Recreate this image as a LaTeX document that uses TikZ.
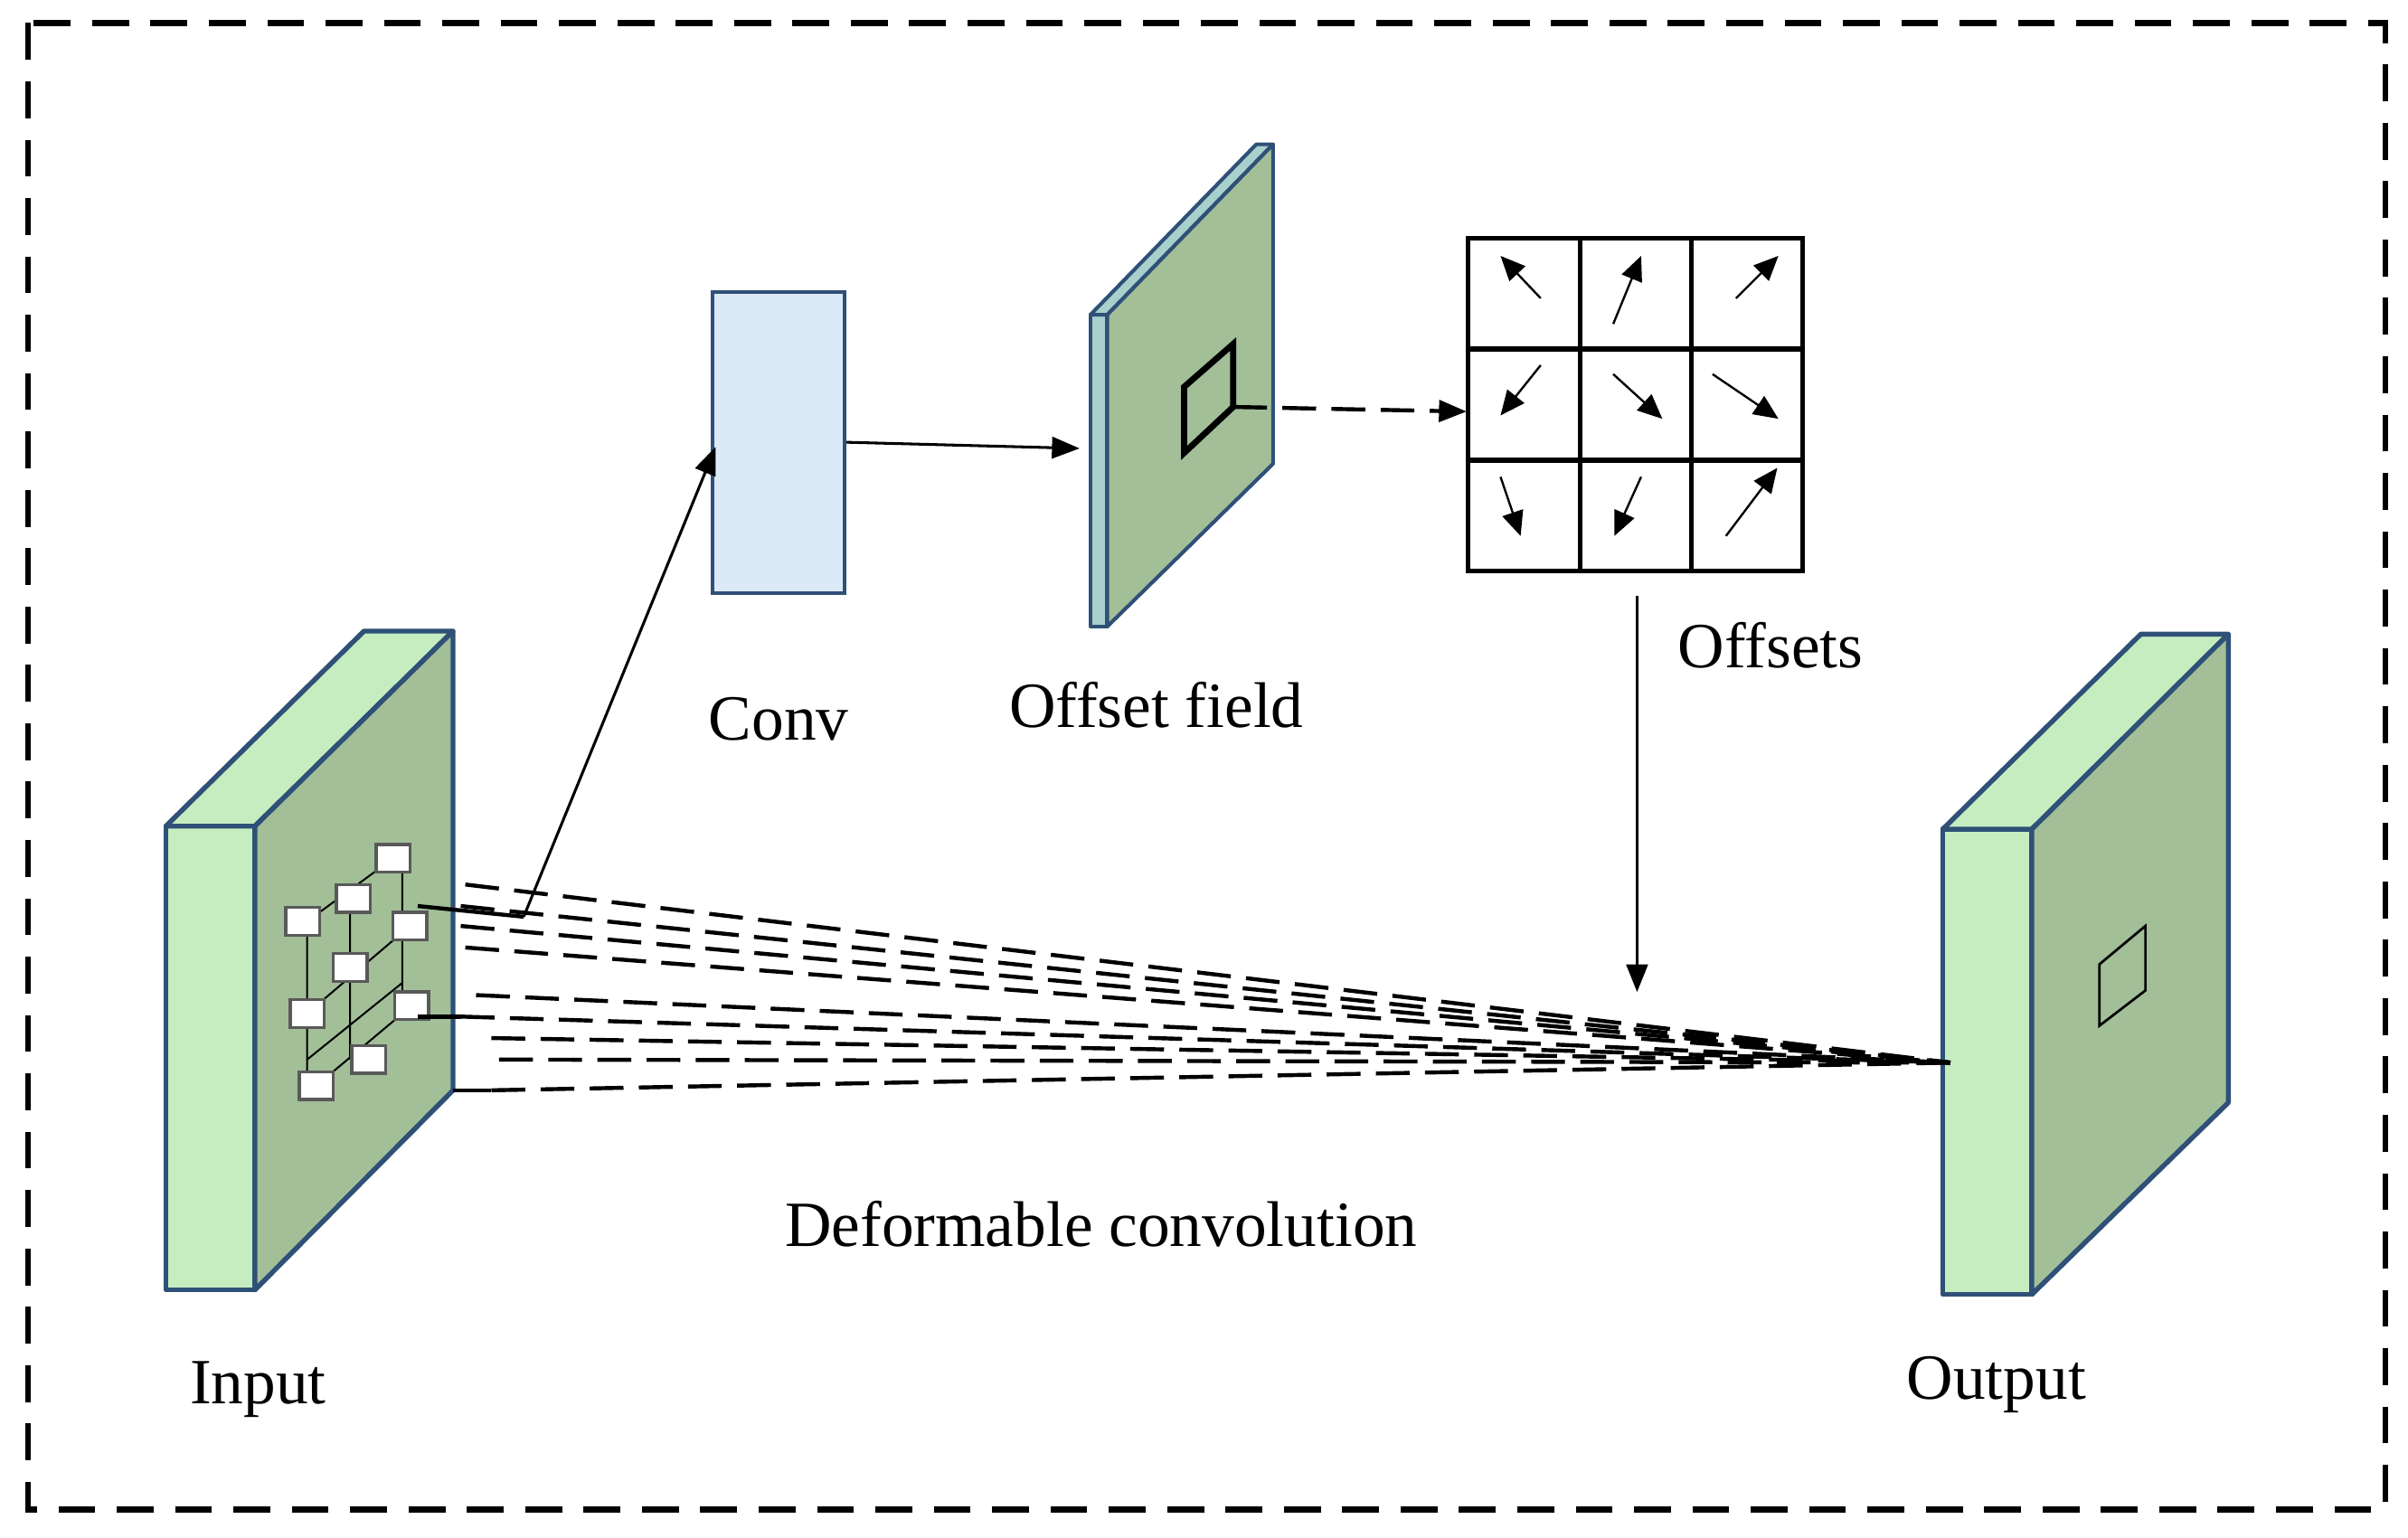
\documentclass[tikz,border=0pt]{standalone}
\usepackage{fontspec}
\setmainfont{Liberation Serif}
\usetikzlibrary{arrows.meta}
\definecolor{lg}{HTML}{C6EDC0}
\definecolor{dg}{HTML}{A2BF98}
\definecolor{ed}{HTML}{2F5077}
\definecolor{cv}{HTML}{DCEAF7}
\definecolor{sl}{HTML}{A8D0CC}
\begin{document}
\begin{tikzpicture}[x=0.5pt,y=-0.5pt,
  face/.style={draw=ed,line width=1.6pt,line join=round},
  lbl/.style={font=\fontsize{21}{24}\selectfont},
  arr/.style={-{Triangle[length=9pt,width=7pt]},line width=0.9pt},
  sarr/.style={-{Triangle[length=8pt,width=7pt]},line width=0.7pt},
  dl/.style={dash pattern=on 11pt off 5pt,line width=1.3pt},
  ks/.style={draw=gray!70!black,fill=white,line width=1pt,minimum width=11pt,minimum height=9pt,inner sep=0pt}]
\useasboundingbox (0,0) rectangle (1568,1001);
\draw[dash pattern=on 12pt off 7pt,line width=1.8pt] (18,15) rectangle (1553,983);
% input block
\filldraw[face,fill=lg] (108,538) rectangle (166,840);
\filldraw[face,fill=lg] (108,538) -- (237,411) -- (295,411) -- (166,538) -- cycle;
\filldraw[face,fill=dg] (166,538) -- (295,411) -- (295,710) -- (166,840) -- cycle;
% kernel lattice
\draw[line width=0.6pt] (200,600)--(200,707) (228,585)--(228,690) (262,559)--(262,655)
 (200,600)--(256,559) (200,660)--(267,603) (206,707)--(268,655) (200,690)--(262,640);
\foreach \p/\q [count=\i] in {197/600,230/585,256/559,267/603,228/630,200/660,268/655,240/690,206/707}
  \node[ks] (k\i) at (\p,\q) {};
% output block
\filldraw[face,fill=lg] (1265,540) rectangle (1323,843);
\filldraw[face,fill=lg] (1265,540) -- (1394,413) -- (1451,413) -- (1323,540) -- cycle;
\filldraw[face,fill=dg] (1323,540) -- (1451,413) -- (1451,718) -- (1323,843) -- cycle;
\draw[line width=0.8pt] (1367,628) -- (1397,603) -- (1397,645) -- (1367,668) -- cycle;
% offset field slab
\filldraw[face,line width=1.2pt,fill=sl] (710,205) rectangle (721,408);
\filldraw[face,line width=1.2pt,fill=sl] (710,205) -- (818,94) -- (829,94) -- (721,205) -- cycle;
\filldraw[face,line width=1.2pt,fill=dg] (721,205) -- (829,94) -- (829,302) -- (721,408) -- cycle;
\draw[line width=2pt,line join=miter] (771,252) -- (803,224) -- (803,265) -- (771,295) -- cycle;
% conv
\node[draw=ed,fill=cv,line width=1.2pt,minimum width=43pt,minimum height=98pt,inner sep=0pt] (conv) at (507,288) {};
% grid
\draw[line width=1.5pt] (956,155) rectangle (1174,372);
\draw[line width=1.5pt] (1028.7,155)--(1028.7,372) (1101.3,155)--(1101.3,372) (956,227.3)--(1174,227.3) (956,299.7)--(1174,299.7);
\def\cs{72.67}
\foreach \c/\r/\a/\b/\cc/\d in {0/0/.65/.54/.29/.16, 1/0/.30/.77/.55/.16, 2/0/.40/.54/.78/.16,
 0/1/.65/.14/.29/.59, 1/1/.30/.22/.74/.62, 2/1/.19/.22/.78/.62,
 0/2/.29/.14/.47/.67, 1/2/.55/.14/.31/.67, 2/2/.31/.67/.77/.06}
  \draw[sarr] ({956+(\c+\a)*\cs},{155+(\r+\b)*\cs}) -- ({956+(\c+\cc)*\cs},{155+(\r+\d)*\cs});
% connectors
\coordinate (f) at (1270,692);
\coordinate (j) at (341,597);
\draw[line width=1.3pt] (272,590) -- (j);
\draw[arr] (j) -- (466,291);
\draw[arr] (conv.east) -- (703,292);
\draw[arr,dl] (803,265) -- (955,268);
\draw[arr] (1066,388) -- (1066,646);
\draw[line width=1.3pt] (272,662) -- (300,662);
\draw[line width=1.3pt] (295,710) -- (320,710);
\foreach \y/\x in {576/303,590/300,603/300,617/303,648/310,662/300,676/320,690/325,710/320}
  \draw[dl] (\x,\y) -- (f);
% labels
\node[lbl] at (507,468) {Conv};
\node[lbl] at (753,459) {Offset field};
\node[lbl] at (1153,420) {Offsets};
\node[lbl] at (717,797) {Deformable convolution};
\node[lbl] at (168,905) {Input};
\node[lbl] at (1300,902) {Output};
\end{tikzpicture}
\end{document}
